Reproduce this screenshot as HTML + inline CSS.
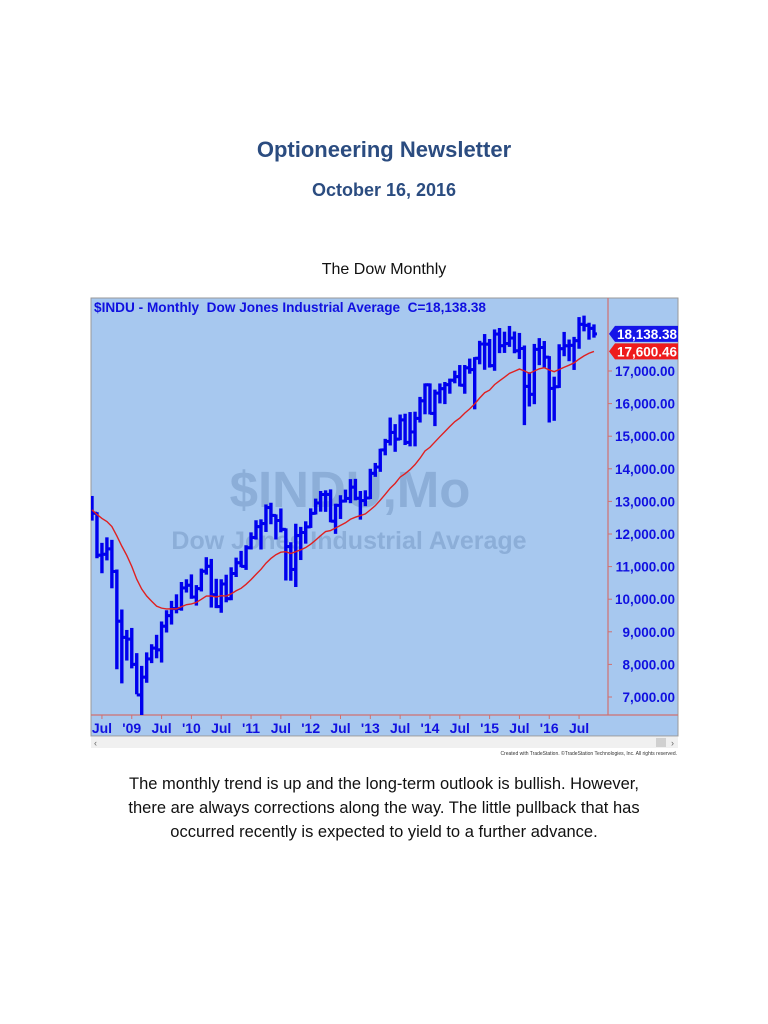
<!DOCTYPE html>
<html><head><meta charset="utf-8"><style>
body{margin:0;width:768px;height:1024px;background:#fff;font-family:"Liberation Sans",sans-serif;position:relative;overflow:hidden}
.c{position:absolute;left:0;width:768px;text-align:center}
</style></head><body>
<div class="c" style="top:137px;font-size:22px;font-weight:bold;color:#2b4c80">Optioneering Newsletter</div>
<div class="c" style="top:180px;font-size:18px;font-weight:bold;color:#2b4c80">October 16, 2016</div>
<div class="c" style="top:261px;font-size:16px;color:#111">The Dow Monthly</div>
<svg id="chart" style="position:absolute;left:0;top:0" width="768" height="1024"></svg>
<div class="c" style="top:772px;font-size:16.5px;line-height:24px;color:#111">The monthly trend is up and the long-term outlook is bullish. However,<br>there are always corrections along the way. The little pullback that has<br>occurred recently is expected to yield to a further advance.</div>
<script>
const months=['May08','Jun08','Jul08','Aug08','Sep08','Oct08','Nov08','Dec08'];
const opens=[13010,12638,11350,11378,11544,10851,9325,8829,8776,8001,7063,7609,8168,8500,8447,9172,9496,9712,9713,10345,10428,10067,10325,10857,11009,10137,9774,10466,10015,10788,11118,11006,11578,11892,12226,12320,12811,12570,12414,12143,11614,10913,11955,12046,12218,12633,12952,13212,13214,12393,12880,13009,13091,13437,13096,13026,13104,13861,14054,14579,14840,15116,14910,15500,14810,15130,15546,16086,16577,15699,16322,16458,16581,16717,16827,16563,17098,17043,17391,17828,17823,17165,18133,17776,17841,18011,17620,17690,16528,16285,17664,17720,17425,16466,16517,17685,17774,17787,17930,18432,18401,18308];
const highs=[13136,12638,11698,11867,11790,10882,9654,9026,9088,8315,7924,8338,8588,8877,9286,9630,9918,10119,10497,10580,10730,10402,10908,11258,11205,10595,10581,10720,10948,11245,11452,11625,12020,12391,12419,12876,12928,12570,12753,12143,11717,12284,12188,12359,12756,13055,13289,13309,13338,12898,13159,13331,13653,13661,13289,13310,13970,14149,14585,14888,15542,15340,15634,15659,15710,15721,16175,16589,16589,16398,16588,16632,16736,16979,17152,17153,17350,17395,17895,18103,17951,18244,18288,18175,18351,18181,18137,17750,16933,17800,17978,17889,17425,16795,17790,18168,17935,18016,18623,18668,18450,18399];
const lows=[12442,11287,10827,11221,10365,7882,7449,8149,7909,7114,6470,7467,8070,8218,8087,9009,9253,9597,9678,10235,10043,9835,10268,10784,9774,9757,9614,9936,9999,10712,11011,10929,11555,11860,11555,12093,12330,11862,12082,10604,10597,10405,11232,11735,12217,12630,12715,12710,12391,12035,12492,12996,12976,13063,12471,12884,13104,13784,13937,14444,14746,14552,14910,14760,14719,14719,15450,15703,15699,15340,16036,16015,16334,16653,16557,16333,16947,15855,17236,17068,17136,17037,17579,17585,17770,17575,17399,15370,15942,16013,17210,17139,15450,15503,16511,17484,17331,17063,17713,18247,17992,18054];
const closes=[12638,11350,11378,11544,10851,9325,8829,8776,8001,7063,7609,8168,8500,8447,9172,9496,9712,9713,10345,10428,10067,10325,10857,11009,10137,9774,10466,10015,10788,11118,11006,11578,11892,12226,12320,12811,12570,12414,12143,11614,10913,11955,12046,12218,12633,12952,13212,13214,12393,12880,13009,13091,13437,13096,13026,13104,13861,14054,14579,14840,15116,14910,15500,14810,15130,15546,16086,16577,15699,16322,16458,16581,16717,16827,16563,17098,17043,17391,17828,17823,17165,18133,17776,17841,18011,17620,17690,16528,16285,17664,17720,17425,16466,16517,17685,17774,17787,17930,18432,18401,18308,18138];
const priceTicks=[17000,16000,15000,14000,13000,12000,11000,10000,9000,8000,7000];
const priceTickLabels=['17,000.00','16,000.00','15,000.00','14,000.00','13,000.00','12,000.00','11,000.00','10,000.00','9,000.00','8,000.00','7,000.00'];
const timeLabels=['Jul',"'09",'Jul',"'10",'Jul',"'11",'Jul',"'12",'Jul',"'13",'Jul',"'14",'Jul',"'15",'Jul',"'16",'Jul'];
const timeLabelIdx=[2,8,14,20,26,32,38,44,50,56,62,68,74,80,86,92,98];
const lastClose=18138.38, maValue=17600.46;
const ma=[];
const NS='http://www.w3.org/2000/svg';
const svg=document.getElementById('chart');
const X=i=>92+i*4.97;
const Y=v=>371+(17000-v)*0.0326;
function mk(t,a,p){const e=document.createElementNS(NS,t);for(const k in a)e.setAttribute(k,a[k]);(p||svg).appendChild(e);return e;}
let e=mk('rect',{x:91,y:298,width:587,height:438,fill:'#a7c8ef',stroke:'#999','stroke-width':1});

e=mk('text',{x:350,y:507,'text-anchor':'middle','font-size':51,'font-weight':'bold',fill:'#8caed8','font-family':'Liberation Sans'});e.textContent='$INDU,Mo';

e=mk('text',{x:349,y:549,'text-anchor':'middle','font-size':25,'font-weight':'bold',fill:'#8caed8','font-family':'Liberation Sans'});e.textContent='Dow Jones Industrial Average';

e=mk('text',{x:94,y:312,'font-size':14,'font-weight':'bold',fill:'#1010e0','font-family':'Liberation Sans',textLength:392,lengthAdjust:'spacingAndGlyphs'});e.textContent='$INDU - Monthly  Dow Jones Industrial Average  C=18,138.38';

e.style.whiteSpace='pre';
mk('line',{x1:608,y1:298,x2:608,y2:715,stroke:'#d07070','stroke-width':1.2});
mk('line',{x1:91,y1:715,x2:678,y2:715,stroke:'#d07070','stroke-width':1.2});
priceTicks.forEach((v,i)=>{
 mk('line',{x1:608,y1:Y(v),x2:612,y2:Y(v),stroke:'#d07070'});
 const t=mk('text',{x:675,y:Y(v)+5,'text-anchor':'end','font-size':13.5,'font-weight':'bold',fill:'#1010e0','font-family':'Liberation Sans'});
 t.textContent=priceTickLabels[i];
 
 
});
timeLabelIdx.forEach((m,i)=>{
 mk('line',{x1:X(m),y1:715,x2:X(m),y2:719,stroke:'#d07070'});
 const t=mk('text',{x:X(m),y:733,'text-anchor':'middle','font-size':14,'font-weight':'bold',fill:'#1010e0','font-family':'Liberation Sans'});
 t.textContent=timeLabels[i];
 
 
});
mk('clipPath',{id:'cp'});mk('rect',{x:91,y:298,width:517,height:417},svg.lastChild);
const g=mk('g',{stroke:'#0000ee','stroke-width':3.4,'clip-path':'url(#cp)'});

closes.forEach((c,i)=>{
 const x=X(i);
 const b=mk('line',{x1:x,y1:Y(highs[i])-1,x2:x,y2:Y(lows[i])+1},g);
 
 
 mk('line',{x1:x-3,y1:Y(opens[i]),x2:x,y2:Y(opens[i]),'stroke-width':3},g);
 mk('line',{x1:x,y1:Y(c),x2:x+3,y2:Y(c),'stroke-width':3},g);
});
let m=12750;
closes.forEach((c,i)=>{m=m+(c-m)*0.1;ma.push(m);});
const sc=maValue/ma[ma.length-1];
const pts=ma.map((v,i)=>{const k=i/(ma.length-1);const vv=v*(1+(sc-1)*k);return X(i)+','+Y(vv);}).join(' ');
e=mk('polyline',{points:pts,fill:'none',stroke:'#e02020','stroke-width':1.4});

function badge(v,txt,col,nm){
 const y=Y(v);
 const p=mk('path',{d:`M609 ${y} L615 ${y-8} L678 ${y-8} L678 ${y+8} L615 ${y+8} Z`,fill:col});
 
 
 const t=mk('text',{x:677,y:y+5,'text-anchor':'end','font-size':13.5,'font-weight':'bold',fill:'#fff','font-family':'Liberation Sans'});
 t.textContent=txt;
}
badge(lastClose,'18,138.38','#1515e8','last-price-badge');
badge(maValue,'17,600.46','#ee1c1c','ma-value-badge');
e=mk('rect',{x:91,y:737,width:587,height:11,fill:'#f0f0f0'});

mk('rect',{x:656,y:738,width:10,height:9,fill:'#d0d0d0'});
e=mk('text',{x:94,y:746,'font-size':9,fill:'#666'});e.textContent='‹';
e=mk('text',{x:671,y:746,'font-size':9,fill:'#666'});e.textContent='›';
e=mk('text',{x:677,y:755,'text-anchor':'end','font-size':5,fill:'#333','font-family':'Liberation Sans'});
e.textContent='Created with TradeStation. ©TradeStation Technologies, Inc. All rights reserved.';

</script>
</body></html>
